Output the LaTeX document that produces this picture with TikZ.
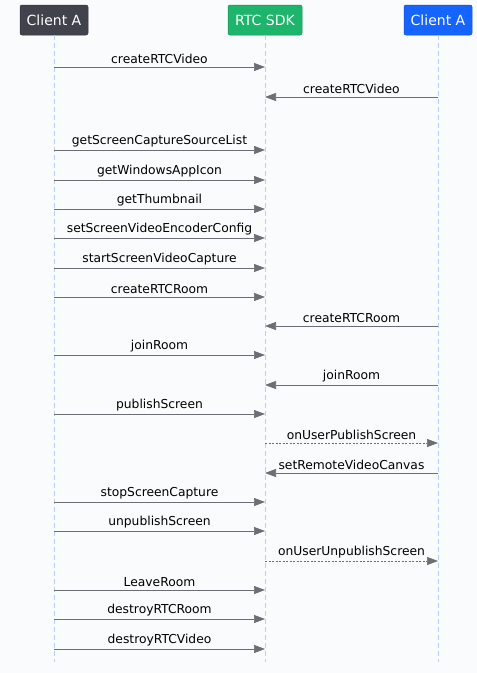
\documentclass[tikz,border=0pt]{standalone}
\usepackage{fontspec}
\setmainfont{DejaVu Sans}
\usetikzlibrary{arrows.meta}
\definecolor{bgc}{HTML}{FAFBFD}
\definecolor{lifec}{HTML}{B8CFF5}
\definecolor{msgc}{HTML}{6B6E75}
\definecolor{darkc}{HTML}{40434C}
\definecolor{greenc}{HTML}{1DB46C}
\definecolor{bluec}{HTML}{1664FF}
\tikzset{
  actor/.style={draw=#1!80!black, fill=#1, text=white, rounded corners=2pt, minimum height=30pt, inner xsep=2pt, font=\fontsize{14}{16}\selectfont, line width=0.5pt},
  life/.style={draw=lifec, dashed, dash pattern=on 5pt off 3pt, line width=0.6pt},
  msg/.style={draw=msgc, line width=0.7pt, -{Triangle[length=11pt,width=8pt]}},
  rmsg/.style={msg, dash pattern=on 2pt off 1.5pt},
  lbl/.style={midway, above, font=\fontsize{12.3}{14}\selectfont, text=black, inner sep=3pt}
}
\begin{document}
\begin{tikzpicture}[x=1pt,y=-1pt]
\path[fill=bgc] (0,0) rectangle (477,673);
\useasboundingbox (0,0) rectangle (477,673);
\node[actor=darkc, minimum width=68pt] (A) at (54,20) {Client A};
\node[actor=greenc, minimum width=74pt] (S) at (265,20) {RTC SDK};
\node[actor=bluec, minimum width=68pt] (B) at (438,20) {Client A};
\coordinate (Ae) at (54,662);
\coordinate (Se) at (265,662);
\coordinate (Be) at (438,662);
\draw[life] (A.south) -- (Ae);
\draw[life] (S.south) -- (Se);
\draw[life] (B.south) -- (Be);
\foreach \y/\t in {67/createRTCVideo,150/getScreenCaptureSourceList,180/getWindowsAppIcon,209/getThumbnail,238/setScreenVideoEncoderConfig,268/startScreenVideoCapture,297/createRTCRoom,355/joinRoom,414/publishScreen,502/stopScreenCapture,531/unpublishScreen,590/LeaveRoom,619/destroyRTCRoom,649/destroyRTCVideo}{
  \coordinate (a\y) at (54,\y);
  \coordinate (s\y) at (265,\y);
  \draw[msg] (a\y) -- (s\y) node[lbl] {\t};
}
\foreach \y/\t in {97/createRTCVideo,326/createRTCRoom,385/joinRoom,473/setRemoteVideoCanvas}{
  \coordinate (b\y) at (438,\y);
  \coordinate (s\y) at (265,\y);
  \draw[msg] (b\y) -- (s\y) node[lbl] {\t};
}
\foreach \y/\t in {443/onUserPublishScreen,561/onUserUnpublishScreen}{
  \coordinate (s\y) at (265,\y);
  \coordinate (b\y) at (438,\y);
  \draw[rmsg] (s\y) -- (b\y) node[lbl] {\t};
}
\end{tikzpicture}
\end{document}
